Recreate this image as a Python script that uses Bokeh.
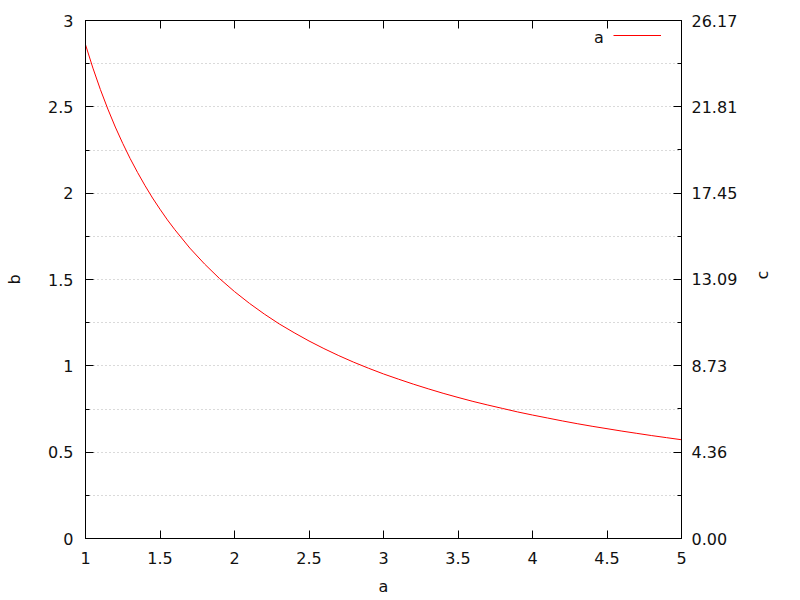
import math
from bokeh.plotting import figure
from bokeh.models import (Range1d, LinearAxis, SingleIntervalTicker, FixedTicker,
                          Legend, LegendItem)
from bokeh.embed import file_html
from bokeh.resources import INLINE

# data
a_vals = [1.0, 1.05, 1.1, 1.15, 1.2, 1.25, 1.3, 1.35, 1.4, 1.45, 1.5, 1.55,
          1.6, 1.7, 1.8, 1.9,
          2.0, 2.1, 2.2, 2.3, 2.4, 2.5, 2.6, 2.7, 2.8, 2.9,
          3.0, 3.1, 3.2, 3.3, 3.4, 3.5, 3.6, 3.7, 3.8, 3.9,
          4.0, 4.1, 4.2, 4.3, 4.4, 4.5, 4.6, 4.7, 4.8, 4.9, 5.0]
b_vals = [2.860, 2.724, 2.600, 2.487, 2.383, 2.288, 2.200, 2.119, 2.043, 1.972,
          1.907, 1.845, 1.788, 1.682, 1.589, 1.505,
          1.430, 1.362, 1.300, 1.243, 1.192, 1.144, 1.100, 1.059, 1.021, 0.986,
          0.953, 0.923, 0.894, 0.867, 0.841, 0.817, 0.794, 0.773, 0.753, 0.733,
          0.715, 0.698, 0.681, 0.665, 0.650, 0.636, 0.622, 0.609, 0.596, 0.584,
          0.572]
c_ticks = [0.00, 4.36, 8.73, 13.09, 17.45, 21.81, 26.17]
series_name = "a"

FONT = "DejaVu Sans"
FS = "16px"

W, H = 784, 598
BL, BR, BT, BB = 85, 103, 20, 59
FW = W - BL - BR
FH = H - BT - BB

p = figure(width=W, height=H, output_backend="svg", toolbar_location=None,
           x_range=Range1d(1, 5), y_range=Range1d(0, 3),
           min_border_left=BL, min_border_right=BR,
           min_border_top=BT, min_border_bottom=BB)
p.extra_y_ranges = {"c": Range1d(c_ticks[0], c_ticks[-1])}
p.outline_line_color = "black"
p.outline_line_width = 1
p.background_fill_color = "white"
p.border_fill_color = "white"

line = p.line(a_vals, b_vals, line_color="#ff0000", line_width=1)

baxis = p.below[0]
laxis = p.left[0]
baxis.axis_label = "a"
laxis.axis_label = "b"
baxis.ticker = SingleIntervalTicker(interval=0.5, num_minor_ticks=0)
laxis.ticker = SingleIntervalTicker(interval=0.5, num_minor_ticks=2)
p.ygrid.ticker = laxis.ticker

c_minor = [(c_ticks[i] + c_ticks[i + 1]) / 2 for i in range(len(c_ticks) - 1)]
raxis = LinearAxis(y_range_name="c", axis_label="c",
                   ticker=FixedTicker(ticks=c_ticks, minor_ticks=c_minor))
raxis.major_label_overrides = {v: f"{v:.2f}" for v in c_ticks}
if hasattr(raxis, "axis_label_orientation"):
    raxis.axis_label_orientation = math.pi / 2
p.add_layout(raxis, "right")

taxis = LinearAxis(ticker=SingleIntervalTicker(interval=0.5, num_minor_ticks=0))
p.add_layout(taxis, "above")

for ax in [baxis, laxis, raxis, taxis]:
    ax.axis_line_color = "black"
    ax.major_tick_line_color = "black"
    ax.minor_tick_line_color = "black"
    ax.major_tick_in = 8
    ax.major_tick_out = 0
    ax.minor_tick_in = 4
    ax.minor_tick_out = 0
    ax.axis_label_text_font = FONT
    ax.axis_label_text_font_size = FS
    ax.axis_label_text_font_style = "normal"
    ax.axis_label_text_color = "#111111"
    ax.major_label_text_font = FONT
    ax.major_label_text_font_size = FS
    ax.major_label_text_color = "#111111"

baxis.minor_tick_line_color = None
taxis.minor_tick_line_color = None
taxis.major_label_text_font_size = "0px"
taxis.major_label_text_alpha = 0
taxis.major_label_standoff = 0

baxis.major_label_standoff = 13
baxis.axis_label_standoff = 10
laxis.major_label_standoff = 12
laxis.axis_label_standoff = 21
raxis.major_label_standoff = 10
raxis.axis_label_standoff = 22

p.xgrid.grid_line_color = None
p.ygrid.grid_line_color = None
p.ygrid.minor_grid_line_color = "#b4b4b4"
p.ygrid.minor_grid_line_dash = "1 3"
p.ygrid.minor_grid_line_width = 1

# legend: label on the left, line sample on the right (gnuplot style)
dummy = p.line([], [], line_alpha=0)
leg_text = Legend(items=[LegendItem(label=series_name, renderers=[dummy])],
                  glyph_width=0, glyph_height=14,
                  label_standoff=0, label_height=14, padding=0, margin=0,
                  spacing=0, background_fill_alpha=0, border_line_color=None,
                  label_text_font=FONT, label_text_font_size=FS,
                  label_text_color="#111111")
leg_text.location = (FW - 77 - 10, FH - 28)
leg_line = Legend(items=[LegendItem(label=" ", renderers=[line])],
                  glyph_width=48, glyph_height=14, label_standoff=0,
                  label_height=14, padding=0, margin=0, spacing=0,
                  background_fill_alpha=0, border_line_color=None,
                  label_text_font_size="1px")
leg_line.location = (FW - 20 - 48, FH - 23)
p.add_layout(leg_text)
p.add_layout(leg_line)

open("out.html", "w").write(file_html(p, INLINE))
